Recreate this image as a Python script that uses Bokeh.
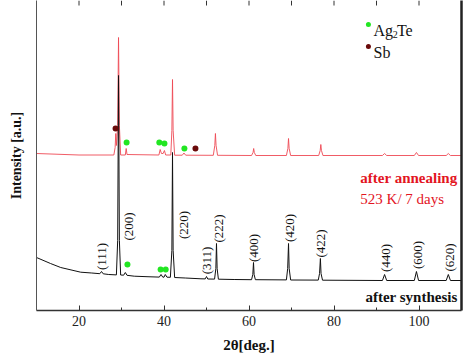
from bokeh.plotting import figure
from bokeh.models import LinearAxis, FixedTicker, Range1d
from bokeh.core.properties import value
from bokeh.embed import file_html
from bokeh.resources import INLINE
import math

# ---------------- data ----------------
# after synthesis (black), intensity in arbitrary units
synth_x = [10, 13.3, 15.7, 20.4, 23, 24.9, 25.3, 25.7, 27, 28.8, 29.1, 29.3, 29.5, 29.8,
           30.5, 30.9, 31.3, 33, 36, 38.9, 39.3, 39.7, 40.0, 40.3, 40.7, 41.5, 41.85, 42.0,
           42.15, 42.5, 45, 48.7, 49.7, 50.0, 50.3, 51.9, 52.2, 52.35, 52.5, 52.8, 56.5,
           60.6, 60.9, 61.06, 61.2, 61.5, 68.8, 69.1, 69.3, 69.45, 69.8, 76.3, 76.6, 76.8,
           76.95, 77.3, 91.4, 91.9, 92.4, 98.9, 99.4, 99.9, 106.4, 106.9, 107.4, 110]
synth_y = [53, 47, 43, 38.3, 37.5, 36.8, 39, 36.7, 36, 35.6, 70, 235, 70, 35.5,
           35.3, 38, 35.2, 34.3, 33.8, 33.4, 36, 33.4, 33.3, 36, 33.3, 33.2, 60, 158,
           60, 33, 32.5, 31.7, 31.6, 34, 31.5, 31.4, 42, 67, 42, 31.3, 31,
           30.8, 36, 48, 36, 30.8, 30.6, 42, 67, 42, 30.5, 30.4, 37, 52,
           37, 30.3, 30, 36, 30, 30, 39, 30, 30, 36, 30, 30]

# after annealing (red)
anneal_x = [10, 20, 28.2, 28.5, 28.65, 28.8, 29.1, 29.3, 29.5, 29.8, 30.9, 31.1, 31.3,
            38.8, 39.1, 39.4, 39.8, 40.1, 40.4, 41.6, 41.85, 42.0, 42.15, 42.5, 44.3, 44.7,
            45.1, 51.6, 51.95, 52.1, 52.25, 52.6, 60.6, 60.95, 61.1, 61.25, 61.6, 68.8,
            69.15, 69.3, 69.45, 69.8, 76.4, 76.75, 76.9, 77.05, 77.4, 91.4, 91.9, 92.4,
            98.9, 99.4, 99.9, 106.4, 106.9, 107.4, 110]
anneal_y = [157, 155.5, 155.5, 163, 177, 165, 185, 273, 185, 155.5, 155.5, 162, 156,
            155.5, 161, 157, 157, 160, 155.5, 155.5, 180, 231, 180, 155.3, 155.3, 157.5,
            155.3, 155.2, 165, 177, 165, 155.2, 155, 158, 162, 158, 155, 155,
            162, 172, 162, 155, 155, 160, 166, 160, 155, 155, 157, 155,
            155, 158, 155, 155, 157, 155, 155]

# phase markers
ag2te_x = [31.2, 38.9, 40.1, 44.8, 31.4, 39.2, 40.4]
ag2te_y = [168, 168, 167, 162, 46, 41, 41]
sb_x = [28.6, 47.4]
sb_y = [182, 162]

# Miller index labels
hkl = ["(111)", "(200)", "(220)", "(311)", "(222)", "(400)", "(420)", "(422)", "(440)", "(600)", "(620)"]
hkl_x = [25.3, 31.6, 44.6, 50.1, 52.8, 61.06, 69.5, 76.8, 92.1, 99.6, 107.2]
hkl_y = [54, 84, 85.5, 50, 82, 62.5, 82.5, 67, 52.5, 55.5, 53]

x_major = [20, 40, 60, 80, 100]
x_minor = [30, 50, 70, 90]
top_ticks = [20, 30, 40, 50, 60, 70, 80, 90, 100]

Y_MAX = 310
SERIF = "Liberation Serif"
RED_TXT = "#e3151f"

p = figure(width=474, height=360, output_backend="svg", toolbar_location=None,
           x_range=Range1d(10, 110), y_range=Range1d(0, Y_MAX),
           min_border_left=36, min_border_right=13, min_border_top=0, min_border_bottom=50,
           x_axis_label="2θ[deg.]", y_axis_label="Intensity [a.u.]")
p.outline_line_color = None
p.grid.visible = False
p.background_fill_color = "white"

# bottom axis
xa = p.xaxis[0]
xa.ticker = FixedTicker(ticks=x_major, minor_ticks=x_minor)
xa.major_tick_in = 5
xa.major_tick_out = 0
xa.minor_tick_in = 3
xa.minor_tick_out = 0
xa.axis_line_color = "#333333"
xa.axis_line_width = 1.5
xa.major_tick_line_color = "#333333"
xa.minor_tick_line_color = "#333333"
xa.major_label_text_font = SERIF
xa.major_label_text_font_size = "14px"
xa.major_label_text_color = "#222222"
xa.major_label_standoff = 5
xa.axis_label_text_font = SERIF
xa.axis_label_text_font_style = "bold"
xa.axis_label_text_font_size = "15px"
xa.axis_label_text_color = "#111111"
xa.axis_label_standoff = 8

# left axis (line only)
ya = p.yaxis[0]
ya.ticker = FixedTicker(ticks=[], minor_ticks=[])
ya.major_tick_line_color = None
ya.minor_tick_line_color = None
ya.major_label_standoff = 0
ya.axis_line_color = "#555555"
ya.axis_line_width = 1
ya.axis_label_text_font = SERIF
ya.axis_label_text_font_style = "bold"
ya.axis_label_text_font_size = "14px"
ya.axis_label_text_color = "#111111"
ya.axis_label_standoff = 13

# right frame line
right = LinearAxis(ticker=FixedTicker(ticks=[], minor_ticks=[]),
                   major_tick_line_color=None, minor_tick_line_color=None,
                   major_label_standoff=0,
                   axis_line_color="#222222", axis_line_width=2.5)
p.add_layout(right, "right")

# top inward ticks
p.segment(x0=top_ticks, y0=[Y_MAX] * len(top_ticks), x1=top_ticks, y1=[Y_MAX - 5] * len(top_ticks),
          line_color="#333333", line_width=1)

# curves
p.line(anneal_x, anneal_y, line_color="#ee4a55", line_width=0.9)
p.line(synth_x, synth_y, line_color="#111111", line_width=1)

# markers
p.scatter(ag2te_x, ag2te_y, size=6, fill_color="#22e622", line_color=None)
p.scatter(sb_x, sb_y, size=6, fill_color="#6a0a0a", line_color=None)

# hkl labels
p.text(hkl_x, hkl_y, text=hkl, angle=math.pi / 2, text_align="center", text_baseline="middle",
       text_font=value(SERIF), text_font_size="13px", text_color="#111111")

# legend (manual)
p.scatter([88.1], [286], size=5, fill_color="#22e622", line_color=None)
p.scatter([88.1], [264], size=5, fill_color="#6a0a0a", line_color=None)
p.text([89.3], [280], text=["Ag"], text_font=value(SERIF), text_font_size="16px",
       text_baseline="alphabetic", text_color="#111111")
p.text([93.8], [276], text=["2"], text_font=value(SERIF), text_font_size="10px",
       text_baseline="alphabetic", text_color="#111111")
p.text([94.8], [280], text=["Te"], text_font=value(SERIF), text_font_size="16px",
       text_baseline="alphabetic", text_color="#111111")
p.text([89.3], [258], text=["Sb"], text_font=value(SERIF), text_font_size="16px",
       text_baseline="alphabetic", text_color="#111111")

# annotations
p.text([86.2], [133], text=["after annealing"], text_font=value(SERIF), text_font_size="15px",
       text_font_style="bold", text_baseline="alphabetic", text_color=RED_TXT)
p.text([86.2], [112], text=["523 K/ 7 days"], text_font=value(SERIF), text_font_size="15px",
       text_baseline="alphabetic", text_color=RED_TXT)
p.text([87.4], [14], text=["after synthesis"], text_font=value(SERIF), text_font_size="15px",
       text_font_style="bold", text_baseline="alphabetic", text_color="#111111")

open("out.html", "w").write(file_html(p, INLINE))
